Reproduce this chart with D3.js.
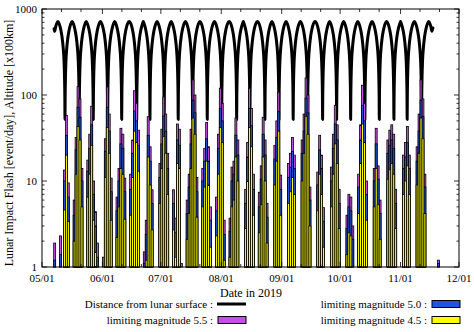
<!DOCTYPE html>
<html>
<head>
<meta charset="utf-8">
<title>Lunar Impact Flash</title>
<script src="https://d3js.org/d3.v7.min.js"></script>
<style>
body { margin: 0; background: #fff; }
text { font-family: "Liberation Serif", "Times New Roman", serif; fill: #000; }
</style>
</head>
<body>
<div id="container"></div>
<script>

// days counted from 2019-05-01 (day 0)
// perilune passes of the orbiter, read from the altitude track
const periluneDay = [4.5, 11.8, 19.1, 26.3, 33.7, 40.9, 48.6, 55.4, 62.7, 69.9, 77.3, 84.8,
  92.2, 99.9, 106.7, 114.4, 121.6, 128.9, 136.3, 144.0, 151.2, 158.4, 165.7,
  173.1, 180.6, 187.4, 194.8, 202.1];
// altitude [x100km] against hours after perilune (same on the way back down)
const orbitProfile = [[0, 52], [2, 95], [6, 165], [12, 250], [24, 370], [36, 470],
  [48, 550], [60, 620], [72, 675]];
const apoluneAlt = 715;
const trackStart = [6.2, 590];
const trackEnd = [200.6, 600];

// impact flash rate [event/day] per day for each limiting magnitude
const flashDay = [6, 9, 11, 12, 13, 16, 17, 18, 19, 20, 23, 24, 25, 26, 27, 28,
  31, 32, 33, 34, 35, 38, 39, 40, 41, 42, 45, 46, 47, 48, 49, 52, 53, 54, 55, 56,
  60, 61, 62, 63, 64, 67, 68, 69, 70, 71, 74, 75, 76, 77, 78, 79, 82, 83, 84, 85, 86,
  89, 90, 91, 92, 93, 96, 97, 98, 99, 100, 104, 105, 106, 107, 108,
  111, 112, 113, 114, 115, 119, 120, 121, 122, 126, 127, 128, 129,
  133, 134, 135, 136, 137, 141, 142, 143, 144, 148, 149, 150, 151, 152,
  156, 157, 158, 159, 162, 163, 164, 165, 166, 170, 171, 172, 173,
  177, 178, 179, 180, 181, 185, 186, 187, 188, 192, 193, 194, 195, 196, 203];
const mag55 = [1.9, 2.3, 13.4, 58, 9.5, 6, 32, 125, 90, 14, 17.5, 35, 74, 10, 4.4, 1.9,
  1.3, 31, 124, 60, 10.8, 6.5, 14, 41, 35, 10.8, 12, 30, 112, 80, 39, 1.5, 3.5, 56, 25, 7.9,
  16, 40, 95, 60, 21, 7.9, 3.7, 46, 40, 1.1, 6, 12, 40, 150, 100, 11, 14, 24, 48, 25, 5,
  6.5, 35, 120, 80, 3.5, 3.7, 14.5, 17, 54, 30, 8, 28, 120, 70, 12,
  7.4, 15, 55, 30, 5.5, 26, 50, 108, 11.7, 16, 21, 32, 20,
  30, 60, 158, 100, 8.5, 12.7, 34, 20, 4.9, 14.5, 35, 76, 45, 8,
  4, 7, 6.5, 3, 12, 45, 130, 80, 10, 14, 41, 15, 6,
  30, 39, 45, 35, 8, 20, 28, 43, 20, 25, 60, 150, 90, 12, 1.2];
const mag50 = [1.2, 1.4, 10, 34, 6.5, 4, 23, 72, 55, 10, 13, 24, 45, 7, 3, 1.3,
  1.0, 22, 72, 38, 7.5, 4.5, 10, 27, 24, 7.5, 8, 21, 65, 50, 26, 1.1, 2.4, 34, 17, 5.5,
  11, 27, 57, 38, 14, 5.5, 2.5, 30, 26, 0.9, 4.2, 8.5, 27, 87, 62, 7.5, 10, 17, 31, 17, 3.5,
  4.5, 24, 70, 50, 2.4, 2.6, 10, 12, 34, 20, 5.5, 19, 70, 44, 8,
  5, 10.5, 35, 20, 3.8, 18, 32, 64, 8, 11, 14.5, 22, 14,
  21, 38, 92, 62, 6, 9, 23, 14, 3.4, 10, 24, 46, 30, 5.5,
  2.8, 5, 4.5, 2.1, 8.5, 30, 76, 50, 7, 10, 27, 10.5, 4.2,
  21, 26, 30, 24, 5.5, 14, 19, 28, 14, 17, 38, 87, 56, 8.5, 1.1];
const mag45 = [0, 0, 4.6, 20, 3.4, 2, 12, 43, 30, 5, 6.5, 12, 26, 3.5, 1.5, 0.8,
  0.5, 11, 42, 21, 3.5, 2.2, 5, 14, 12, 3.6, 4, 11, 38, 28, 13, 0.6, 1.2, 19, 9, 2.7,
  5.5, 14, 33, 21, 7, 2.7, 1.3, 16, 14, 0.5, 2.1, 4.2, 14, 54, 35, 3.8, 5, 8.5, 17, 9, 1.7,
  2.3, 12, 42, 28, 1.2, 1.3, 5, 6, 19, 10, 2.8, 10, 42, 25, 4,
  2.5, 5.3, 19, 10, 1.9, 9, 17, 38, 4, 5.5, 7.5, 11, 7,
  10, 21, 56, 35, 3, 4.5, 12, 7, 1.7, 5, 12, 27, 16, 2.8,
  1.4, 2.5, 2.3, 1, 4.2, 16, 46, 28, 3.5, 5, 14, 5.3, 2.1,
  10.5, 13.5, 16, 12, 2.8, 7, 10, 15, 7, 9, 21, 54, 31, 4.2, 0];

const monthTicks = ["2019-05-01", "2019-06-01", "2019-07-01", "2019-08-01",
  "2019-09-01", "2019-10-01", "2019-11-01", "2019-12-01"];

const colMag55 = "#c44ee8", colMag50 = "#2254e0", colMag45 = "#ffff00";

function chart() {
  const width = 474, height = 332;
  const margin = {top: 9, right: 15, bottom: 65, left: 42};
  const t0 = Date.UTC(2019, 4, 1);
  const dayDate = d => new Date(t0 + d * 864e5);

  const svg = d3.select("#container").append("svg")
      .attr("width", width).attr("height", height);

  const x = d3.scaleUtc()
      .domain([new Date(t0), new Date(Date.UTC(2019, 11, 1))])
      .range([margin.left, width - margin.right]);
  const y = d3.scaleLog()
      .domain([1, 1000])
      .range([height - margin.bottom, margin.top]);
  const yb = height - margin.bottom;

  // altitude track: profile laid out after each perilune and mirrored before the next
  let track = [];
  for (let i = 0; i < periluneDay.length - 1; i++) {
    const p = periluneDay[i], q = periluneDay[i + 1], mid = (p + q) / 2;
    orbitProfile.forEach(([h, a]) => { if (p + h / 24 < mid - 0.05) track.push([p + h / 24, a]); });
    track.push([mid, apoluneAlt]);
    orbitProfile.slice().reverse().forEach(([h, a]) => {
      if (h > 0 && q - h / 24 > mid + 0.05) track.push([q - h / 24, a]);
    });
  }
  track = track.filter(d => d[0] > trackStart[0] && d[0] < trackEnd[0]);
  track.unshift(trackStart);
  track.push(trackEnd);

  const line = d3.line()
      .x(d => x(dayDate(d[0])))
      .y(d => y(d[1]))
      .curve(d3.curveMonotoneX);

  svg.append("path")
      .datum(track)
      .attr("fill", "none")
      .attr("stroke", "#000")
      .attr("stroke-width", 3)
      .attr("stroke-linejoin", "round")
      .attr("stroke-linecap", "round")
      .attr("d", line);

  // stacked flash bars: 5.5 behind, 5.0, then 4.5 in front
  const bars = svg.append("g").attr("stroke", "#000").attr("stroke-width", 0.8);
  [[mag55, colMag55], [mag50, colMag50], [mag45, colMag45]].forEach(([vals, col]) => {
    bars.append("g").attr("fill", col)
      .selectAll("rect")
      .data(flashDay.map((d, i) => ({day: d, v: vals[i]})).filter(d => d.v > 1))
      .join("rect")
        .attr("x", d => x(dayDate(d.day)))
        .attr("width", d => x(dayDate(d.day + 1)) - x(dayDate(d.day)))
        .attr("y", d => y(d.v))
        .attr("height", d => yb - y(d.v));
  });

  // frame
  svg.append("rect")
      .attr("x", margin.left).attr("y", margin.top)
      .attr("width", width - margin.left - margin.right)
      .attr("height", yb - margin.top)
      .attr("fill", "none").attr("stroke", "#000").attr("stroke-width", 1);

  // y ticks, inward on both sides
  const xl = margin.left, xr = width - margin.right;
  const minor = [];
  [1, 10, 100].forEach(d => d3.range(2, 10).forEach(k => minor.push(d * k)));
  const ticks = svg.append("g").attr("stroke", "#000").attr("stroke-width", 0.8);
  [1, 10, 100, 1000].forEach(v => {
    ticks.append("line").attr("x1", xl).attr("x2", xl + 5).attr("y1", y(v)).attr("y2", y(v));
    ticks.append("line").attr("x1", xr).attr("x2", xr - 5).attr("y1", y(v)).attr("y2", y(v));
  });
  minor.forEach(v => {
    ticks.append("line").attr("x1", xl).attr("x2", xl + 2.5).attr("y1", y(v)).attr("y2", y(v));
    ticks.append("line").attr("x1", xr).attr("x2", xr - 2.5).attr("y1", y(v)).attr("y2", y(v));
  });
  svg.append("g").selectAll("text")
    .data([1, 10, 100, 1000]).join("text")
      .attr("x", xl - 5).attr("y", d => y(d)).attr("dy", "0.35em")
      .attr("text-anchor", "end").attr("font-size", 11)
      .text(d => d);

  // x ticks: months plus the 11th and 21st
  const parse = d3.utcParse("%Y-%m-%d");
  const months = monthTicks.map(parse);
  const tens = [];
  months.slice(0, -1).forEach(m => [10, 20].forEach(k => tens.push(new Date(+m + k * 864e5))));
  months.forEach(m => {
    ticks.append("line").attr("x1", x(m)).attr("x2", x(m)).attr("y1", yb).attr("y2", yb - 5);
    ticks.append("line").attr("x1", x(m)).attr("x2", x(m)).attr("y1", margin.top).attr("y2", margin.top + 5);
  });
  tens.forEach(m => {
    ticks.append("line").attr("x1", x(m)).attr("x2", x(m)).attr("y1", yb).attr("y2", yb - 3);
    ticks.append("line").attr("x1", x(m)).attr("x2", x(m)).attr("y1", margin.top).attr("y2", margin.top + 3);
  });
  svg.append("g").selectAll("text")
    .data(months).join("text")
      .attr("x", d => x(d)).attr("y", yb + 15)
      .attr("text-anchor", "middle").attr("font-size", 11)
      .text(d3.utcFormat("%m/%d"));

  svg.append("text")
      .attr("x", 251).attr("y", 297)
      .attr("text-anchor", "middle").attr("font-size", 12)
      .text("Date in 2019");
  svg.append("text")
      .attr("transform", `translate(13,${(margin.top + yb) / 2 + 5}) rotate(-90)`)
      .attr("text-anchor", "middle").attr("font-size", 12)
      .text("Lunar Impact Flash [event/day], Altitude [x100km]");

  // legend
  const legend = [
    {label: "Distance from lunar surface :", tx: 213, ty: 304, kind: "line"},
    {label: "limiting magnitude 5.0 :", tx: 427, ty: 304, kind: "box", col: colMag50},
    {label: "limiting magnitude 5.5 :", tx: 213, ty: 320, kind: "box", col: colMag55},
    {label: "limiting magnitude 4.5 :", tx: 427, ty: 320, kind: "box", col: colMag45}
  ];
  const lg = svg.append("g");
  legend.forEach(d => {
    lg.append("text")
        .attr("x", d.tx).attr("y", d.ty).attr("dy", "0.35em")
        .attr("text-anchor", "end").attr("font-size", 11)
        .text(d.label);
    if (d.kind === "line") {
      lg.append("line")
          .attr("x1", d.tx + 4).attr("x2", d.tx + 33)
          .attr("y1", d.ty).attr("y2", d.ty)
          .attr("stroke", "#000").attr("stroke-width", 3);
    } else {
      lg.append("rect")
          .attr("x", d.tx + 5).attr("y", d.ty - 3.5)
          .attr("width", 28).attr("height", 7)
          .attr("fill", d.col).attr("stroke", "#000").attr("stroke-width", 1);
    }
  });
}

chart();
</script>
</body>
</html>
